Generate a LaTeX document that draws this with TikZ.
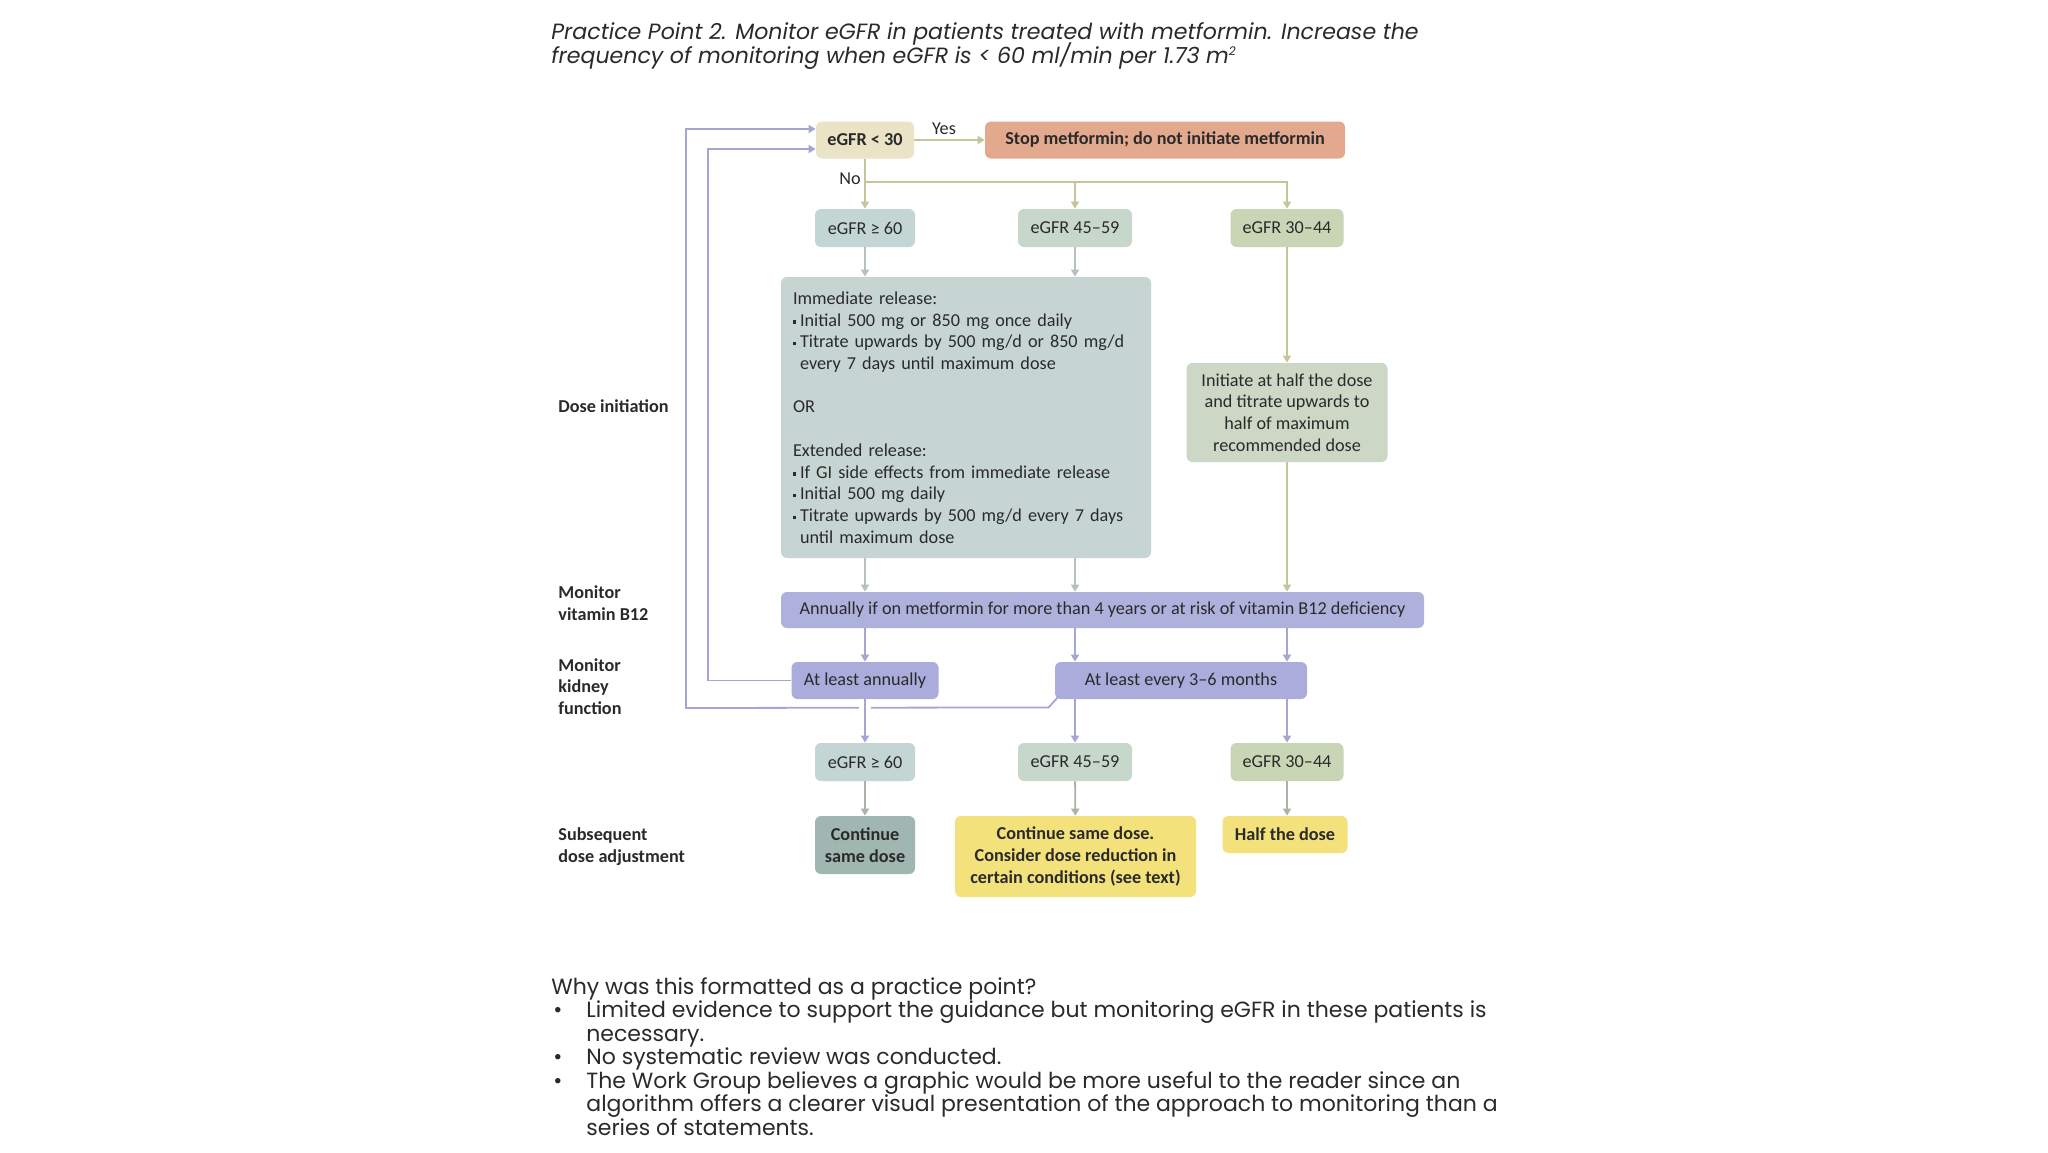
\documentclass[tikz,border=0pt]{standalone}
\usepackage{fontspec}
\setmainfont{Carlito}
\newfontfamily\popfont{Poppins}
\usetikzlibrary{arrows.meta,calc}
\definecolor{txt}{HTML}{2A2A2A}
\definecolor{kline}{HTML}{C6C49A}
\definecolor{gline}{HTML}{B6C0BE}
\definecolor{lline}{HTML}{A4A6D6}
\definecolor{ggline}{HTML}{A9B3A6}
\definecolor{cbeige}{HTML}{EBE3C6}
\definecolor{cstop}{HTML}{E3A98F}
\definecolor{csixty}{HTML}{C4D6D4}
\definecolor{cfortyfive}{HTML}{C8D7CC}
\definecolor{cthirty}{HTML}{C9D6B6}
\definecolor{cbig}{HTML}{C6D5D2}
\definecolor{chalf}{HTML}{CCD7C6}
\definecolor{cbtwelve}{HTML}{AFB1DD}
\definecolor{ckid}{HTML}{AAACDB}
\definecolor{ccont}{HTML}{9FB7B0}
\definecolor{cyel}{HTML}{F3E27C}
\newcommand{\sqb}{\raisebox{0.28ex}{\rule{1.7pt}{1.7pt}}\hspace{1.8pt}}
\begin{document}
\begin{tikzpicture}[x=0.5pt,y=-0.5pt,
  box/.style={rounded corners=3pt, font=\fontsize{9.1}{10.85}\selectfont, text=txt, inner sep=0pt, align=center},
  bbox/.style={box, font=\bfseries\fontsize{9.1}{10.85}\selectfont},
  sidelab/.style={font=\bfseries\fontsize{9.1}{10.85}\selectfont, text=txt, align=left, anchor=west, inner sep=0pt},
  tip/.style={-{Triangle[width=4pt,length=3.5pt]}},
  karr/.style={tip, draw=kline, line width=0.9pt},
  garr/.style={tip, draw=gline, line width=0.9pt},
  larr/.style={tip, draw=lline, line width=0.9pt},
  ggarr/.style={tip, draw=ggline, line width=0.9pt},
  poptext/.style={font=\popfont\fontsize{11}{11.75}\selectfont, text=txt, anchor=mid west, inner sep=0pt},
  titletext/.style={font=\popfont\itshape\fontsize{11.05}{12}\selectfont, text=txt, anchor=mid west, inner sep=0pt},
]
\useasboundingbox[fill=white] (0,0) rectangle (2048,1152);

% title
\node[titletext] (title1) at (551,35) {Practice Point 2. Monitor eGFR in patients treated with metformin. Increase the};
\node[titletext] (title2) at (551,59) {frequency of monitoring when eGFR is < 60 ml/min per 1.73 m\raisebox{0.7ex}{\fontsize{6}{6}\selectfont 2}};

% row 1
\node[bbox, fill=cbeige, minimum width=49pt, minimum height=18.5pt] (lt30) at (865,140) {eGFR < 30};
\node[bbox, fill=cstop, minimum width=180pt, minimum height=18.5pt] (stop) at (1165,140) {Stop metformin; do not initiate metformin};
% row 2
\node[box, fill=csixty, minimum width=50pt, minimum height=19pt] (g60a) at (865,228) {eGFR ≥ 60};
\node[box, fill=cfortyfive, minimum width=57pt, minimum height=19pt] (g45a) at (1075,228) {eGFR 45–59};
\node[box, fill=cthirty, minimum width=56.5pt, minimum height=19pt] (g30a) at (1287,228) {eGFR 30–44};
% big box
\node[box, fill=cbig, minimum width=185pt, minimum height=140.5pt, text width=173pt, align=left] (big) at (966,417.5) {Immediate release:\\
\sqb Initial 500 mg or 850 mg once daily\\
\sqb Titrate upwards by 500 mg/d or 850 mg/d\\
\hspace*{3.5pt}every 7 days until maximum dose\\[10.85pt]
OR\\[10.85pt]
Extended release:\\
\sqb If GI side effects from immediate release\\
\sqb Initial 500 mg daily\\
\sqb Titrate upwards by 500 mg/d every 7 days\\
\hspace*{3.5pt}until maximum dose};
\node[box, fill=chalf, minimum width=100.5pt, minimum height=49.5pt] (half) at (1287,412.5) {Initiate at half the dose\\and titrate upwards to\\half of maximum\\recommended dose};
% B12
\node[box, fill=cbtwelve, minimum width=321.5pt, minimum height=18pt] (b12) at (1102.5,610) {Annually if on metformin for more than 4 years or at risk of vitamin B12 deficiency};
% kidney
\node[box, fill=ckid, minimum width=73.5pt, minimum height=18.5pt] (ann) at (865,680.5) {At least annually};
\node[box, fill=ckid, minimum width=126pt, minimum height=18.5pt] (m36) at (1181,680.5) {At least every 3–6 months};
% row 4
\node[box, fill=csixty, minimum width=50pt, minimum height=19pt] (g60b) at (865,762) {eGFR ≥ 60};
\node[box, fill=cfortyfive, minimum width=57pt, minimum height=19pt] (g45b) at (1075,762) {eGFR 45–59};
\node[box, fill=cthirty, minimum width=56.5pt, minimum height=19pt] (g30b) at (1287,762) {eGFR 30–44};
% row 5
\node[bbox, fill=ccont, minimum width=50pt, minimum height=29pt] (cont) at (865,845) {Continue\\same dose};
\node[bbox, fill=cyel, minimum width=120.5pt, minimum height=40.5pt] (yel) at (1075.5,856.5) {Continue same dose.\\Consider dose reduction in\\certain conditions (see text)};
\node[bbox, fill=cyel, minimum width=62.5pt, minimum height=18.5pt] (halfd) at (1285,834.5) {Half the dose};

% side labels
\node[sidelab] (ldose) at (558,406) {Dose initiation};
\node[sidelab] (lb12) at (558,603.5) {Monitor\\vitamin B12};
\node[sidelab] (lkid) at (558,686.5) {Monitor\\kidney\\function};
\node[sidelab] (lsub) at (558,846.5) {Subsequent\\dose adjustment};

% connectors top
\draw[karr] (lt30) -- (stop);
\node[font=\fontsize{9.1}{10.85}\selectfont, text=txt, inner sep=0pt] (yes) at (944,129) {Yes};
\draw[karr] (lt30) -- (g60a);
\node[font=\fontsize{9.1}{10.85}\selectfont, text=txt, inner sep=0pt] (no) at (850,179) {No};
\coordinate (br) at (865,182);
\draw[karr] (br) -| (g45a.north);
\draw[karr] (br) -| (g30a.north);
\draw[garr] (g60a) -- (g60a |- big.north);
\draw[garr] (g45a) -- (g45a |- big.north);
\draw[karr] (g30a) -- (half);
\draw[garr] (g60a |- big.south) -- (g60a |- b12.north);
\draw[garr] (g45a |- big.south) -- (g45a |- b12.north);
\draw[karr] (half) -- (half |- b12.north);
\draw[larr] (ann |- b12.south) -- (ann.north);
\draw[larr] (g45a |- b12.south) -- (g45a |- m36.north);
\draw[larr] (g30a |- b12.south) -- (g30a |- m36.north);

% feedback loops
\coordinate (fbin) at (708,149);
\coordinate (fbout) at (686,129);
\draw[larr] (ann.west) -| (fbin) -- (fbin -| lt30.west);
\draw[larr] ($(m36.south west)+(4,-3)$) -- ++(-10,11) -- (fbout |- 0,708) -- (fbout) -- (fbout -| lt30.west);

% kidney to row 4
\draw[larr, preaction={draw=white, line width=6pt, -}] (ann) -- (g60b);
\draw[larr] (g45b |- m36.south) -- (g45b);
\draw[larr] (g30b |- m36.south) -- (g30b);
% row 4 to row 5
\draw[ggarr] (g60b) -- (cont);
\draw[ggarr] (g45b) -- (yel);
\draw[ggarr] (g30b) -- (g30b |- halfd.north);

% bottom text
\node[poptext] (why) at (551,990) {Why was this formatted as a practice point?};
\node[poptext] (b1) at (553,1013) {•};
\node[poptext] (l1) at (586,1013) {Limited evidence to support the guidance but monitoring eGFR in these patients is};
\node[poptext] (l1b) at (586,1037) {necessary.};
\node[poptext] (b2) at (553,1060) {•};
\node[poptext] (l2) at (586,1060) {No systematic review was conducted.};
\node[poptext] (b3) at (553,1084) {•};
\node[poptext] (l3) at (586,1084) {The Work Group believes a graphic would be more useful to the reader since an};
\node[poptext] (l3b) at (586,1107) {algorithm offers a clearer visual presentation of the approach to monitoring than a};
\node[poptext] (l3c) at (586,1131) {series of statements.};
\end{tikzpicture}
\end{document}
